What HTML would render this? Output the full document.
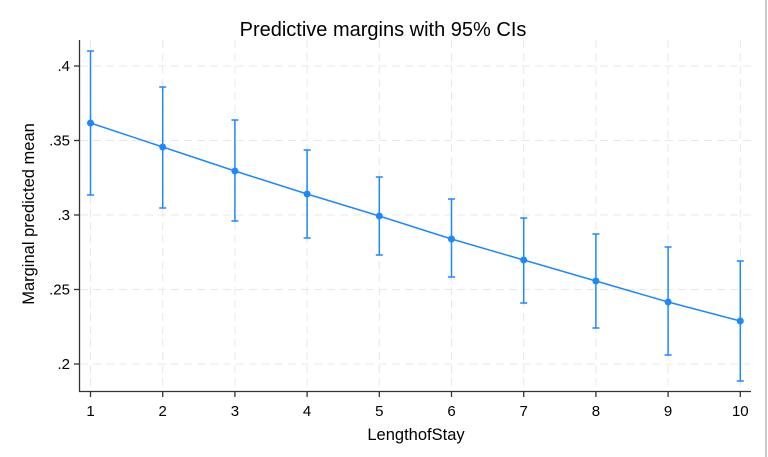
<!DOCTYPE html>
<html><head><meta charset="utf-8"><style>
body{margin:0;background:#fff}
svg{display:block;font-family:"Liberation Sans",sans-serif}
</style></head><body>
<svg width="768" height="457" viewBox="0 0 768 457">
<rect width="768" height="457" fill="#fff"/>
<line x1="766" y1="0" x2="766" y2="457" stroke="#999" stroke-width="1"/>
<text x="383" y="36" font-size="20" text-anchor="middle" fill="#000">Predictive margins with 95% CIs</text>
<g stroke="#e8e8e8" stroke-width="1" stroke-dasharray="8,5">
<line x1="80" y1="66" x2="751" y2="66"/><line x1="80" y1="140.5" x2="751" y2="140.5"/><line x1="80" y1="215" x2="751" y2="215"/><line x1="80" y1="289.5" x2="751" y2="289.5"/><line x1="80" y1="364" x2="751" y2="364"/>
<line x1="90.5" y1="40" x2="90.5" y2="391"/><line x1="162.7" y1="40" x2="162.7" y2="391"/><line x1="234.9" y1="40" x2="234.9" y2="391"/><line x1="307.1" y1="40" x2="307.1" y2="391"/><line x1="379.3" y1="40" x2="379.3" y2="391"/><line x1="451.5" y1="40" x2="451.5" y2="391"/><line x1="523.7" y1="40" x2="523.7" y2="391"/><line x1="595.9" y1="40" x2="595.9" y2="391"/><line x1="668.1" y1="40" x2="668.1" y2="391"/><line x1="740.3" y1="40" x2="740.3" y2="391"/>
</g>
<g stroke="#333" stroke-width="1.3">
<line x1="79.5" y1="40" x2="79.5" y2="391.5"/><line x1="79" y1="391.5" x2="751" y2="391.5"/>
<line x1="74" y1="66" x2="79" y2="66"/><line x1="74" y1="140.5" x2="79" y2="140.5"/><line x1="74" y1="215" x2="79" y2="215"/><line x1="74" y1="289.5" x2="79" y2="289.5"/><line x1="74" y1="364" x2="79" y2="364"/>
<line x1="90.5" y1="392" x2="90.5" y2="397"/><line x1="162.7" y1="392" x2="162.7" y2="397"/><line x1="234.9" y1="392" x2="234.9" y2="397"/><line x1="307.1" y1="392" x2="307.1" y2="397"/><line x1="379.3" y1="392" x2="379.3" y2="397"/><line x1="451.5" y1="392" x2="451.5" y2="397"/><line x1="523.7" y1="392" x2="523.7" y2="397"/><line x1="595.9" y1="392" x2="595.9" y2="397"/><line x1="668.1" y1="392" x2="668.1" y2="397"/><line x1="740.3" y1="392" x2="740.3" y2="397"/>
</g>
<g font-size="15" fill="#000" text-anchor="end">
<text x="70" y="71">.4</text><text x="70" y="145.5">.35</text><text x="70" y="220">.3</text><text x="70" y="294.5">.25</text><text x="70" y="369">.2</text>
</g>
<g font-size="15" fill="#000" text-anchor="middle">
<text x="90.5" y="416">1</text><text x="162.7" y="416">2</text><text x="234.9" y="416">3</text><text x="307.1" y="416">4</text><text x="379.3" y="416">5</text><text x="451.5" y="416">6</text><text x="523.7" y="416">7</text><text x="595.9" y="416">8</text><text x="668.1" y="416">9</text><text x="740.3" y="416">10</text>
</g>
<g font-size="16.5" fill="#000" text-anchor="middle">
<text x="416" y="440">LengthofStay</text>
<text transform="translate(34,214) rotate(-90)">Marginal predicted mean</text>
</g>
<g stroke="#1e88ff" stroke-width="1.5" fill="none">
<path d="M90.5 51V195M162.7 87V208M234.9 120V221M307.1 150V238M379.3 177V255M451.5 199V277M523.7 218V303M595.9 234V328M668.1 247V355M740.3 261V381"/>
<path d="M87 51h7M87 195h7M159.2 87h7M159.2 208h7M231.4 120h7M231.4 221h7M303.6 150h7M303.6 238h7M375.8 177h7M375.8 255h7M448 199h7M448 277h7M520.2 218h7M520.2 303h7M592.4 234h7M592.4 328h7M664.6 247h7M664.6 355h7M736.8 261h7M736.8 381h7"/>
<polyline points="90.5,123 162.7,147 234.9,171 307.1,194 379.3,216 451.5,239 523.7,260 595.9,281 668.1,302 740.3,321"/>
</g>
<g fill="#1e88ff">
<circle cx="90.5" cy="123" r="3.5"/><circle cx="162.7" cy="147" r="3.5"/><circle cx="234.9" cy="171" r="3.5"/><circle cx="307.1" cy="194" r="3.5"/><circle cx="379.3" cy="216" r="3.5"/><circle cx="451.5" cy="239" r="3.5"/><circle cx="523.7" cy="260" r="3.5"/><circle cx="595.9" cy="281" r="3.5"/><circle cx="668.1" cy="302" r="3.5"/><circle cx="740.3" cy="321" r="3.5"/>
</g>
</svg>
</body></html>
